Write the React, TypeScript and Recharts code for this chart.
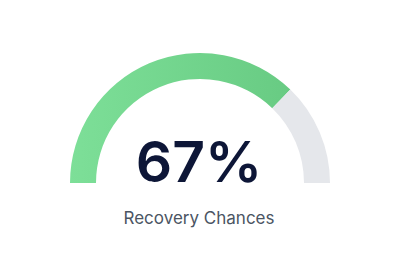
import { PieChart, Pie, Cell } from "recharts";

const segments = ["Recovered", "Remaining"];
const values = [67, 23];
const percentLabel = "67%";
const caption = "Recovery Chances";

const data = segments.map((name, i) => ({ name, value: values[i] }));

export default function App() {
  return (
    <div style={{ position: "absolute", left: 0, top: 0, width: 400, height: 280, background: "#fff" }}>
      <PieChart width={400} height={280} margin={{ top: 0, right: 0, bottom: 0, left: 0 }}>
        <defs>
          <linearGradient id="gaugeGreen" x1="0" y1="0" x2="1" y2="0">
            <stop offset="0%" stopColor="#7ddf98" />
            <stop offset="100%" stopColor="#68cb83" />
          </linearGradient>
        </defs>
        <Pie
          data={data}
          dataKey="value"
          cx={200}
          cy={183}
          startAngle={180}
          endAngle={0}
          innerRadius={104}
          outerRadius={130}
          stroke="none"
          isAnimationActive={false}
        >
          <Cell fill="url(#gaugeGreen)" />
          <Cell fill="#e5e7eb" />
        </Pie>
        <text
          x={199}
          y={182}
          textAnchor="middle"
          fontFamily="Inter"
          fontWeight={600}
          fontSize={57}
          fill="#0d1637"
        >
          {percentLabel}
        </text>
        <text
          x={199}
          y={224}
          textAnchor="middle"
          fontFamily="Inter"
          fontSize={17}
          fill="#4b5563"
        >
          {caption}
        </text>
      </PieChart>
    </div>
  );
}
